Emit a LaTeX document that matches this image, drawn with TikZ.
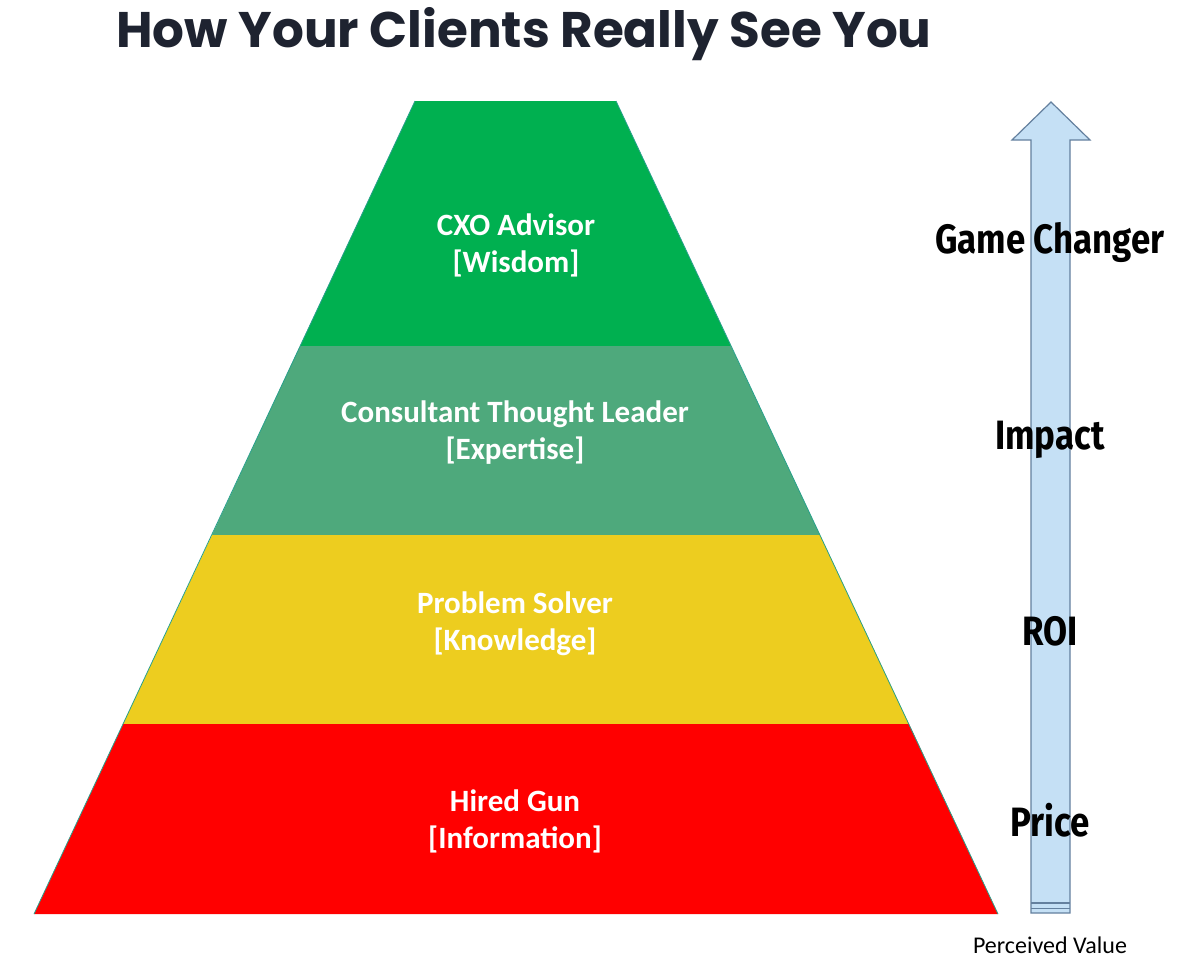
\documentclass[tikz,border=0pt]{standalone}
\usepackage{fontspec}
\setmainfont{Carlito}
\newfontfamily\titlefont{Poppins}
\newfontfamily\handfont{Fira Sans}[FakeStretch=0.85]
\definecolor{cgreen}{RGB}{0,176,80}
\definecolor{cteal}{RGB}{78,169,124}
\definecolor{cyellow}{RGB}{237,205,31}
\definecolor{cred}{RGB}{255,0,0}
\definecolor{arrowfill}{RGB}{197,224,245}
\definecolor{arrowline}{RGB}{100,128,158}
\definecolor{titlecol}{RGB}{30,35,48}
\definecolor{edgecol}{RGB}{40,160,140}
\begin{document}
\begin{tikzpicture}[x=1pt,y=-1pt,
  band/.style={draw=none},
  lvl/.style={text=white,align=center,font=\fontsize{31}{37}\selectfont\bfseries},
  side/.style={font=\handfont\fontsize{41}{41}\selectfont\bfseries,text=black},
]
\useasboundingbox (0,0) rectangle (1200,970);
\fill[white] (0,0) rectangle (1200,970);
% title
\node[font=\titlefont\fontsize{50}{50}\selectfont\bfseries,text=titlecol] (title) at (524,34) {How Your Clients Really See You};
% pyramid bands
\fill[cgreen]  (415,101) -- (616,101) -- (731,346) -- (300,346) -- cycle;
\fill[cteal]   (300,346) -- (731,346) -- (820,535) -- (212,535) -- cycle;
\fill[cyellow] (212,535) -- (820,535) -- (909,724) -- (123,724) -- cycle;
\fill[cred]    (123,724) -- (909,724) -- (998,914) -- (34,914) -- cycle;
\draw[edgecol,line width=0.8pt] (415,101) -- (34,914);
\draw[edgecol,line width=0.8pt] (616,101) -- (998,914);
% labels
\node[lvl] (cxo) at (516,245) {CXO Advisor\\{}[Wisdom]};
\node[lvl] (ctl) at (515,433) {Consultant Thought Leader\\{}[Expertise]};
\node[lvl] (ps) at (515,624) {Problem Solver\\{}[Knowledge]};
\node[lvl] (hg) at (515,821) {Hired Gun\\{}[Information]};
% arrow
\draw[fill=arrowfill,draw=arrowline,line width=1.2pt,line join=miter]
  (1031,913) -- (1031,140) -- (1012,140) -- (1051,102) -- (1090,140) -- (1070,140) -- (1070,913) -- cycle;
\draw[arrowline,line width=1.2pt] (1031,903) -- (1070,903);
\draw[arrowline,line width=1.2pt] (1031,908.5) -- (1070,908.5);
% side labels
\node[side] (gc) at (1050,243) {Game Changer};
\node[side] (imp) at (1050,440) {Impact};
\node[side] (roi) at (1050,631) {ROI};
\node[side] (pr) at (1050,820) {Price};
\node[font=\fontsize{24}{24}\selectfont] (pv) at (1050,945) {Perceived Value};
\end{tikzpicture}
\end{document}
